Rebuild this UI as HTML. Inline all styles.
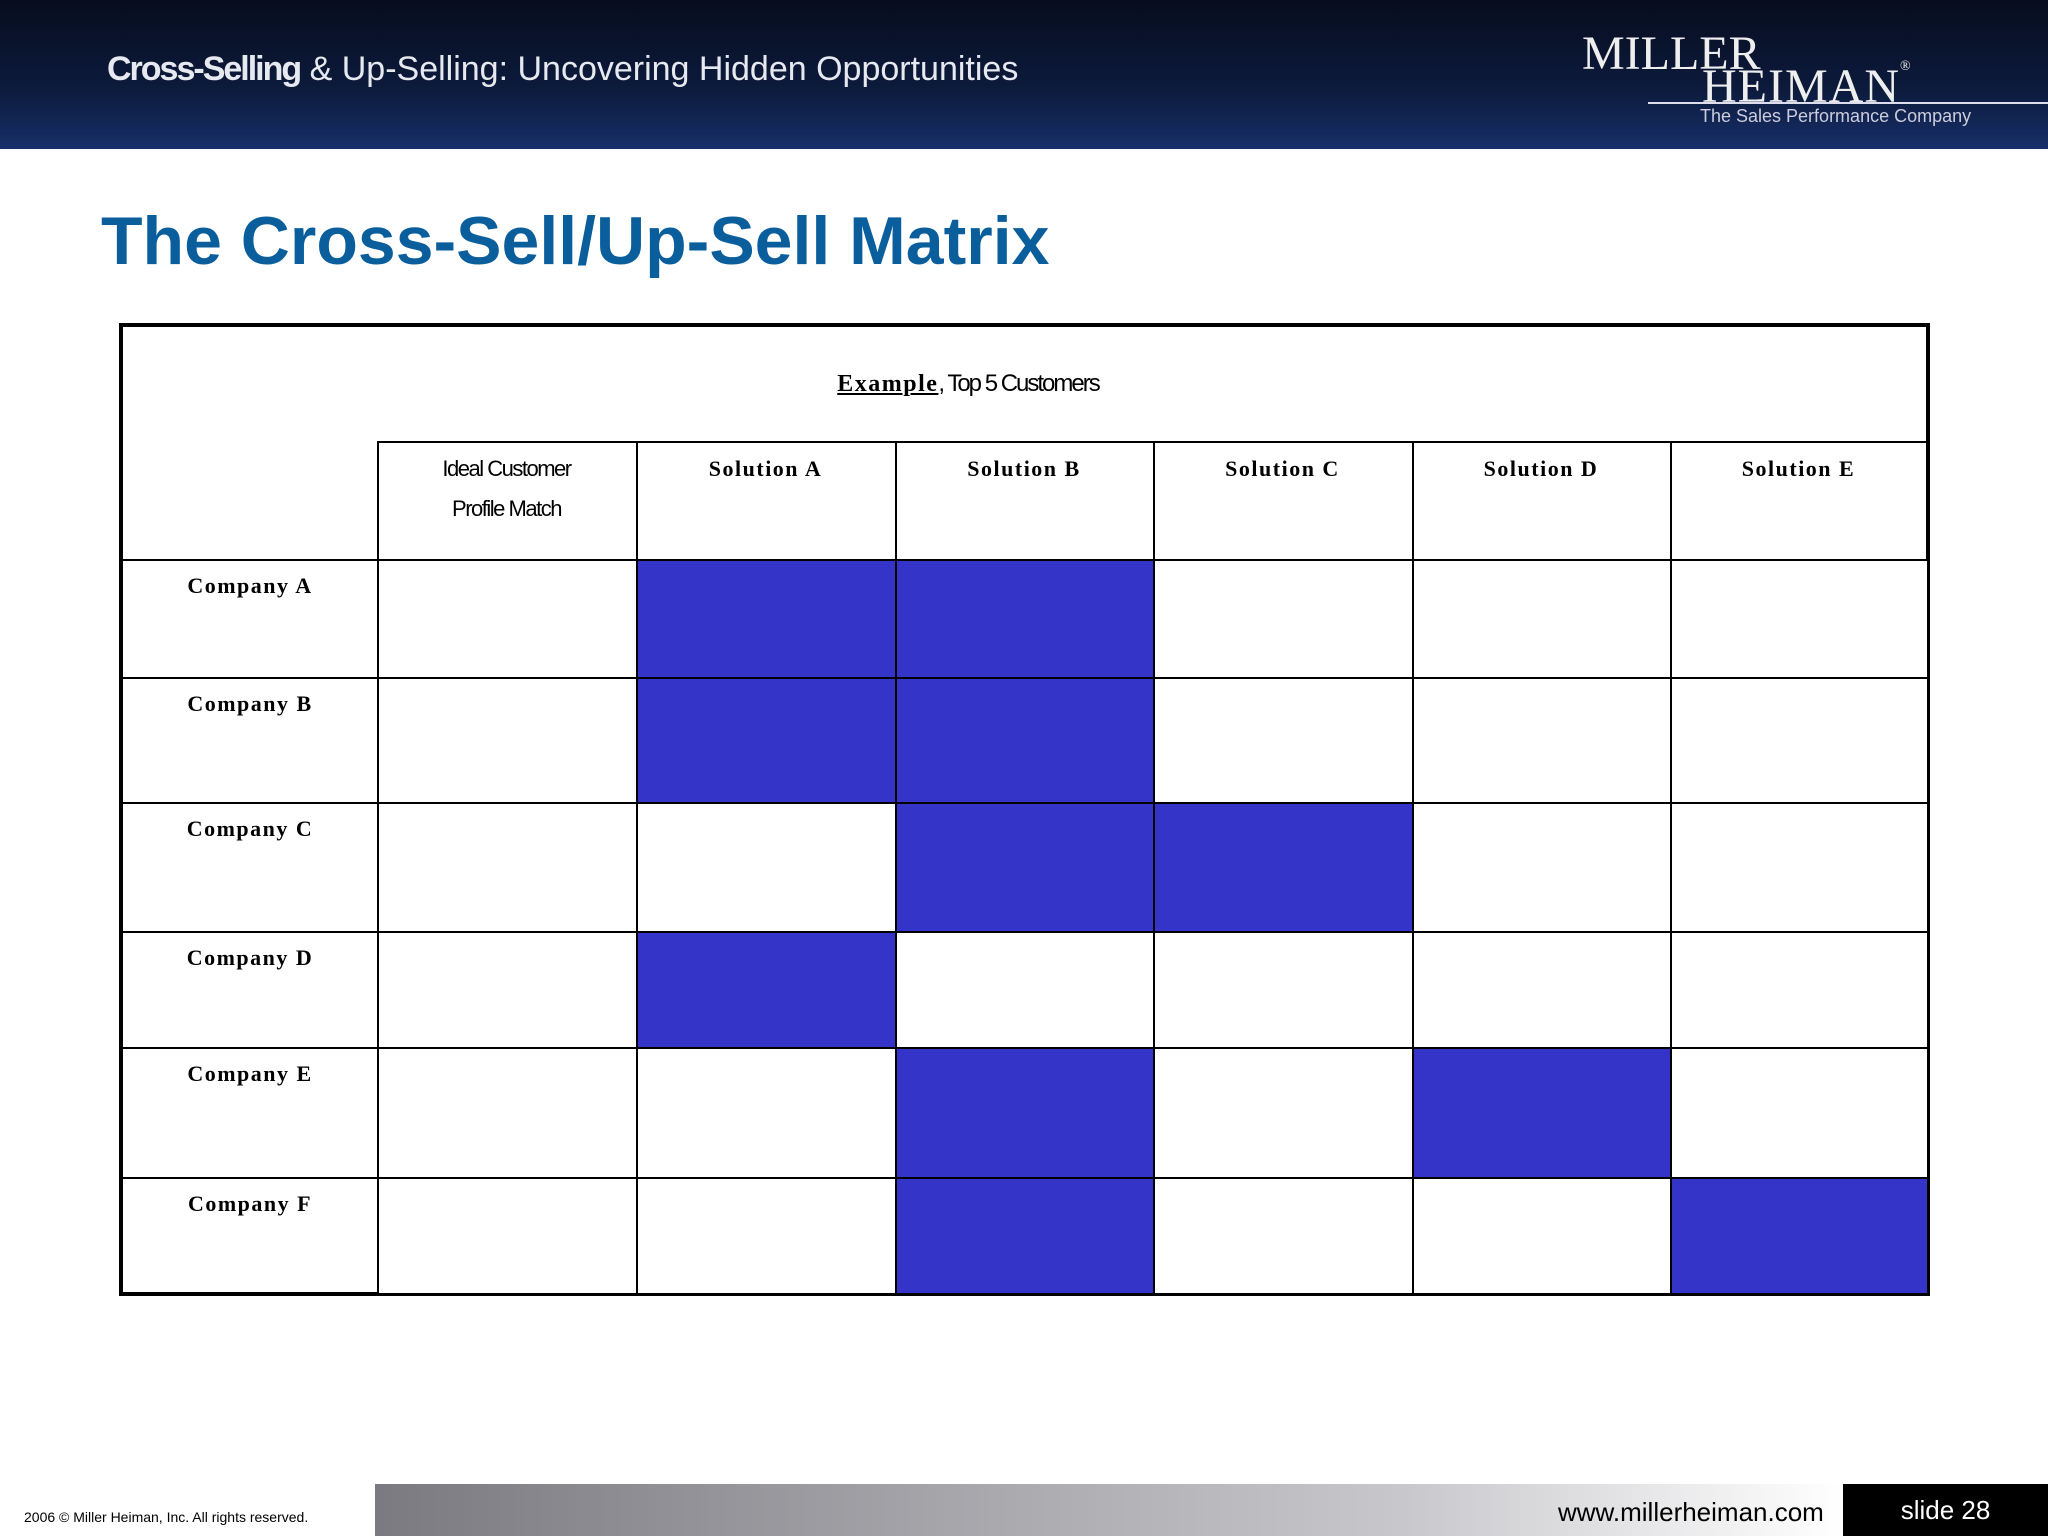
<!DOCTYPE html>
<html><head><meta charset="utf-8"><style>
body{margin:0;width:2048px;height:1536px;position:relative;background:#fff;overflow:hidden;font-family:"Liberation Sans",sans-serif}
.abs{position:absolute}
#hdr{left:0;top:0;width:2048px;height:149px;background:linear-gradient(180deg,#070d1e 0%,#0c1a3c 60%,#17306a 100%)}
.cell{position:absolute;box-sizing:border-box}
.lbl{position:absolute;font-family:"Liberation Serif",serif;font-weight:bold;font-size:22px;letter-spacing:1.5px;text-align:center;color:#000}
</style></head><body>
<div id="hdr" class="abs"></div>
<div class="abs" style="left:107px;top:50px;font-size:34px;color:#e6e9f0"><span style="letter-spacing:-2px;font-weight:bold">Cross-Selling</span> &amp; Up-Selling: Uncovering Hidden Opportunities</div>
<div class="abs" style="left:1582px;top:26px;font-family:'Liberation Serif',serif;font-size:48px;color:#eee;letter-spacing:0px">MILLER</div>
<div class="abs" style="left:1702px;top:59px;font-family:'Liberation Serif',serif;font-size:48px;color:#eee;letter-spacing:1px">HEIMAN<span style="font-size:14px;vertical-align:top">®</span></div>
<div class="abs" style="left:1648px;top:102px;width:400px;height:2px;background:#dde"></div>
<div class="abs" style="left:1700px;top:106px;font-size:18px;color:#ccd">The Sales Performance Company</div>
<div class="abs" style="left:101px;top:202px;font-size:68px;font-weight:bold;color:#0a5e9c">The Cross-Sell/Up-Sell Matrix</div>
<div id="tbl" class="abs" style="left:0;top:0"></div>
<div class="abs" style="left:24px;top:1509px;font-size:14px">2006 © Miller Heiman, Inc. All rights reserved.</div>
<div class="abs" style="left:375px;top:1484px;width:1468px;height:52px;background:linear-gradient(90deg,#7a7a80,#c8c8cc 70%,#fff)"></div>
<div class="abs" style="left:1558px;top:1497px;font-size:26px">www.millerheiman.com</div>
<div class="abs" style="left:1843px;top:1484px;width:205px;height:52px;background:#000;color:#fff;font-size:26px;line-height:52px;text-align:center">slide 28</div>
<script>
const columns=["Ideal Customer Profile Match","Solution A","Solution B","Solution C","Solution D","Solution E"];
const rows=["Company A","Company B","Company C","Company D","Company E","Company F"];
const filled=[[0,1,1,0,0,0],[0,1,1,0,0,0],[0,0,1,1,0,0],[0,1,0,0,0,0],[0,0,1,0,1,0],[0,0,1,0,0,1]];
const colX=[119,377,636,895,1153,1412,1670,1927];
const rowY=[441,559,677,802,931,1047,1177,1293];
const t=document.getElementById('tbl');
function add(el){t.appendChild(el);return el;}
let o=document.createElement('div');o.className='cell';
o.style.cssText='left:119px;top:323px;width:1811px;height:973px;border:4px solid #000';


add(o);
let h=document.createElement('div');h.className='abs';
h.style.cssText='left:0;width:1936px;text-align:center;top:370px;font-size:24px;letter-spacing:-2px';
h.innerHTML='<span style="font-family:Liberation Serif,serif;font-weight:bold;text-decoration:underline;letter-spacing:1.5px">Example</span>, Top 5 Customers';


add(h);
for(let c=0;c<columns.length;c++){
 let x0=colX[c+1],x1=colX[c+2];
 let d=document.createElement('div');d.className='cell';
 d.style.cssText=`left:${x0}px;top:${rowY[0]}px;width:${x1-x0+2}px;height:${rowY[1]-rowY[0]+2}px;border:2px solid #000`;
 
 
 add(d);
 let l=document.createElement('div');l.className='lbl';
 l.style.cssText+=`left:${x0}px;width:${x1-x0}px;top:${rowY[0]+8}px;line-height:40px`;
 if(c===0){l.style.fontFamily='Liberation Sans,sans-serif';l.style.fontWeight='normal';l.style.letterSpacing='-1.5px';l.style.padding='0 50px';l.style.boxSizing='border-box';}
 l.textContent=columns[c];
 
 
 add(l);
}
for(let r=0;r<rows.length;r++){
 let y0=rowY[r+1],y1=rowY[r+2];
 let l=document.createElement('div');l.className='lbl';
 l.style.cssText+=`left:${colX[0]}px;width:${colX[1]-colX[0]+4}px;top:${y0+14}px`;
 l.textContent=rows[r];
 
 
 add(l);
 let rl=document.createElement('div');rl.className='cell';
 rl.style.cssText=`left:${colX[0]}px;top:${y0}px;width:${colX[1]-colX[0]}px;height:2px;background:#000`;
 
 
 add(rl);
 for(let c=0;c<columns.length;c++){
  let x0=colX[c+1],x1=colX[c+2];
  let d=document.createElement('div');d.className='cell';
  d.style.cssText=`left:${x0}px;top:${y0}px;width:${x1-x0+2}px;height:${y1-y0+2}px;border:2px solid #000;background:${filled[r][c]?'#3434c9':'#fff'}`;
  
  
  add(d);
 }
}
let vl=document.createElement('div');vl.className='cell';
vl.style.cssText=`left:${colX[1]}px;top:${rowY[0]}px;width:2px;height:${rowY[7]-rowY[0]}px;background:#000`;


add(vl);
</script>
</body></html>
